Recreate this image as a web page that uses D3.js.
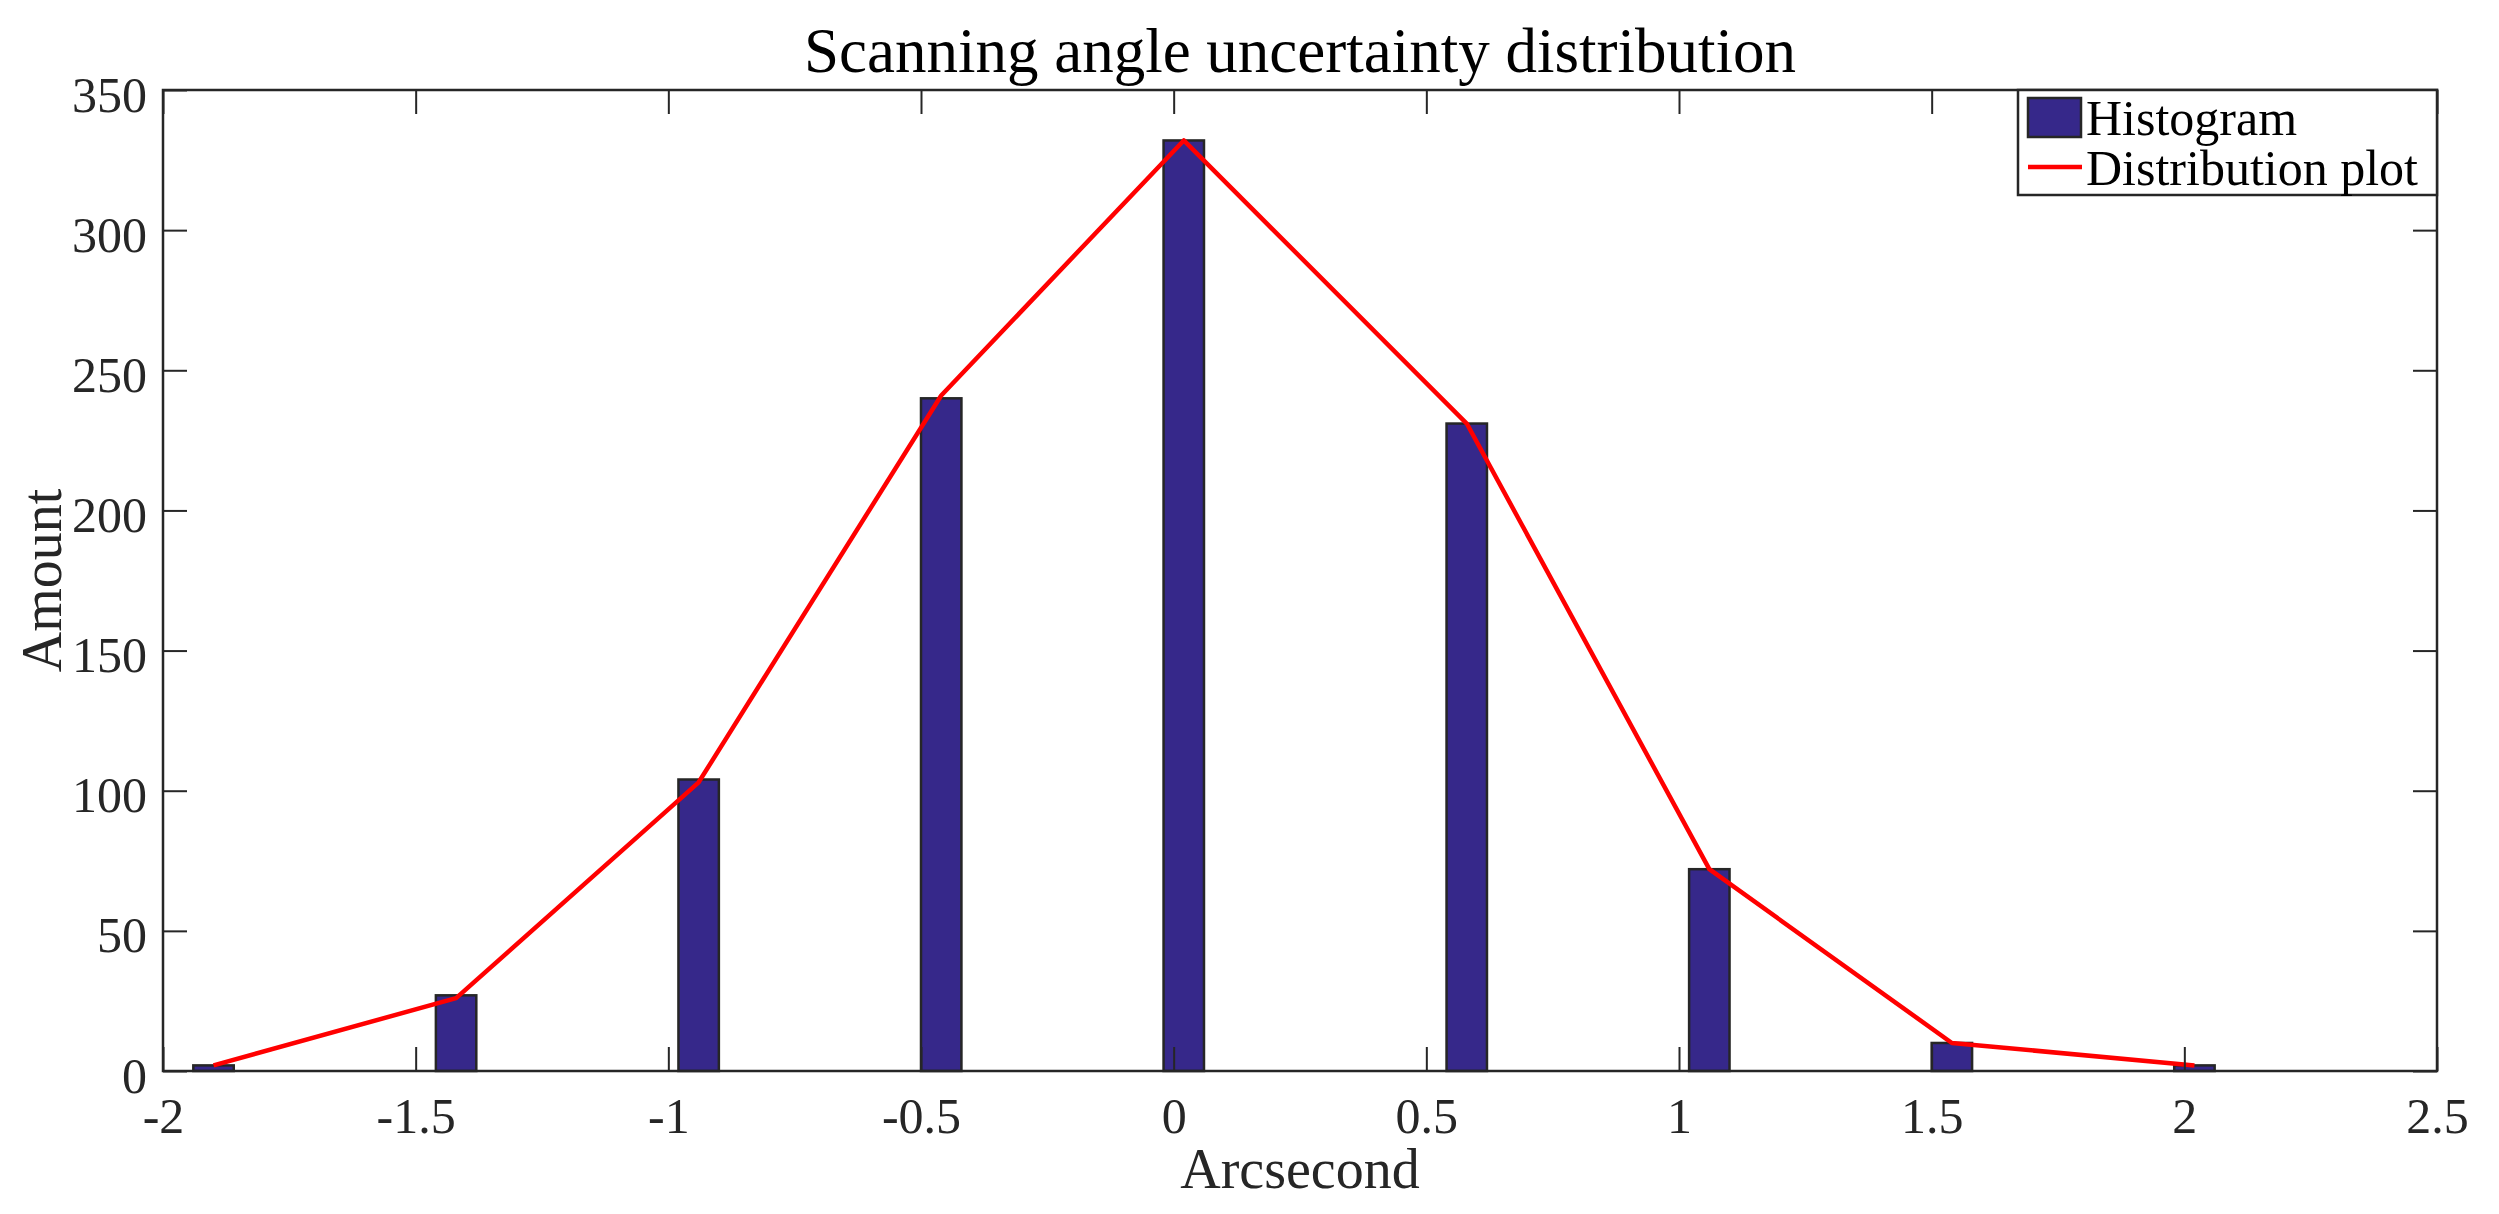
<!DOCTYPE html>
<html>
<head>
<meta charset="utf-8">
<script src="https://cdn.jsdelivr.net/npm/d3@7"></script>
<style>
  body { margin: 0; background: #fff; }
  svg { display: block; font-family: "Liberation Serif", "DejaVu Serif", serif; }
</style>
</head>
<body>
<div id="chart"></div>
<script>
// histogram bin centres (arcsecond) and counts
const binCenters = [-1.90, -1.42, -0.94, -0.46, 0.02, 0.58, 1.06, 1.54, 2.02];
const counts = [2, 27, 104, 240, 332, 231, 72, 10, 2];
// distribution plot values at the same centres
const distValues = [2, 26, 103, 241, 332, 231, 72, 10, 2];
const xTicks = [-2, -1.5, -1, -0.5, 0, 0.5, 1, 1.5, 2, 2.5];
const yTicks = [0, 50, 100, 150, 200, 250, 300, 350];
const binWidth = 0.08;

const W = 2499, H = 1214;
const plotL = 163, plotR = 2437, plotT = 90, plotB = 1071;
const ink = '#262626';

const svg = d3.select('#chart').append('svg')
  .attr('width', W)
  .attr('height', H);

svg.append('rect').attr('width', W).attr('height', H).attr('fill', '#fff');

const x = d3.scaleLinear().domain([-2, 2.5]).range([plotL, plotR]);
const y = d3.scaleLinear().domain([0, 350]).range([plotB, plotT]);

// bars
svg.append('g').selectAll('rect')
  .data(counts)
  .enter()
  .append('rect')
  .attr('x', (d, i) => x(binCenters[i] - binWidth / 2))
  .attr('y', d => y(d))
  .attr('width', (d, i) => x(binCenters[i] + binWidth / 2) - x(binCenters[i] - binWidth / 2))
  .attr('height', d => y(0) - y(d))
  .attr('fill', '#36288a')
  .attr('stroke', ink)
  .attr('stroke-width', 2.5);

// distribution line
const line = d3.line()
  .x((d, i) => x(binCenters[i]))
  .y(d => y(d));

svg.append('path')
  .datum(distValues)
  .attr('d', line)
  .attr('fill', 'none')
  .attr('stroke', '#ff0000')
  .attr('stroke-width', 4.5)
  .attr('stroke-linejoin', 'round');

// axes, ticks pointing inwards on all four sides
const fmt = d => String(d);
const tickLen = 24;

const xAxis = svg.append('g')
  .attr('transform', `translate(0,${plotB})`)
  .call(d3.axisBottom(x).tickValues(xTicks).tickFormat(fmt).tickSizeInner(-tickLen).tickSizeOuter(0));
xAxis.select('.domain').remove();
xAxis.selectAll('text').attr('y', 62).attr('dy', null)
  .style('font-size', '50px').attr('fill', ink)
  .style('font-family', '"Liberation Serif", serif');

const xAxisTop = svg.append('g')
  .attr('transform', `translate(0,${plotT})`)
  .call(d3.axisTop(x).tickValues(xTicks).tickSizeInner(-tickLen).tickSizeOuter(0));
xAxisTop.select('.domain').remove();
xAxisTop.selectAll('text').remove();

const yAxis = svg.append('g')
  .attr('transform', `translate(${plotL},0)`)
  .call(d3.axisLeft(y).tickValues(yTicks).tickFormat(fmt).tickSizeInner(-tickLen).tickSizeOuter(0));
yAxis.select('.domain').remove();
yAxis.selectAll('text').attr('x', -16).attr('dy', '0.42em')
  .style('font-size', '50px').attr('fill', ink)
  .style('font-family', '"Liberation Serif", serif');

const yAxisRight = svg.append('g')
  .attr('transform', `translate(${plotR},0)`)
  .call(d3.axisRight(y).tickValues(yTicks).tickSizeInner(-tickLen).tickSizeOuter(0));
yAxisRight.select('.domain').remove();
yAxisRight.selectAll('text').remove();

svg.selectAll('.tick line').attr('stroke', ink).attr('stroke-width', 2);

// frame
svg.append('rect')
  .attr('x', plotL).attr('y', plotT)
  .attr('width', plotR - plotL).attr('height', plotB - plotT)
  .attr('fill', 'none')
  .attr('stroke', ink)
  .attr('stroke-width', 2.5);

// title and labels
svg.append('text')
  .attr('x', (plotL + plotR) / 2)
  .attr('y', 72)
  .attr('text-anchor', 'middle')
  .style('font-size', '63px')
  .attr('fill', '#000')
  .text('Scanning angle uncertainty distribution');

svg.append('text')
  .attr('x', (plotL + plotR) / 2)
  .attr('y', 1188)
  .attr('text-anchor', 'middle')
  .style('font-size', '56px')
  .attr('fill', ink)
  .text('Arcsecond');

svg.append('text')
  .attr('transform', `translate(61,${(plotT + plotB) / 2}) rotate(-90)`)
  .attr('text-anchor', 'middle')
  .style('font-size', '56px')
  .attr('fill', ink)
  .text('Amount');

// legend
const legend = svg.append('g');
legend.append('rect')
  .attr('x', 2018).attr('y', plotT)
  .attr('width', plotR - 2018).attr('height', 105)
  .attr('fill', '#fff')
  .attr('stroke', ink)
  .attr('stroke-width', 2.5);
legend.append('rect')
  .attr('x', 2028).attr('y', 98)
  .attr('width', 53).attr('height', 39)
  .attr('fill', '#36288a')
  .attr('stroke', ink)
  .attr('stroke-width', 2.5);
legend.append('line')
  .attr('x1', 2028).attr('x2', 2082)
  .attr('y1', 167).attr('y2', 167)
  .attr('stroke', '#ff0000')
  .attr('stroke-width', 4.5);
legend.append('text')
  .attr('x', 2086).attr('y', 135)
  .style('font-size', '50px')
  .attr('fill', '#000')
  .text('Histogram');
legend.append('text')
  .attr('x', 2086).attr('y', 185)
  .style('font-size', '50px')
  .attr('fill', '#000')
  .text('Distribution plot');
</script>
</body>
</html>
